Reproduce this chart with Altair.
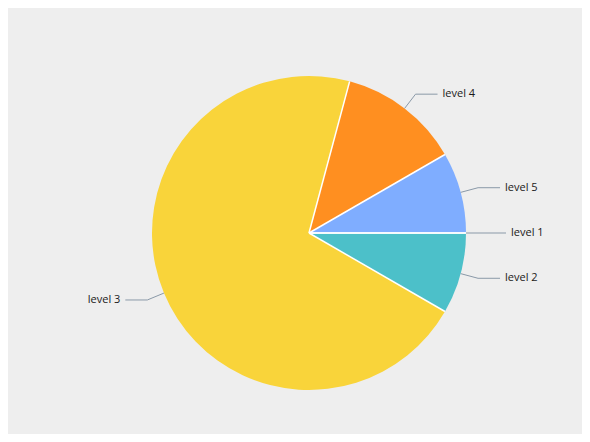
import math
import altair as alt
import pandas as pd

categories = ["level 1", "level 2", "level 3", "level 4", "level 5"]
values = [0, 2, 17, 3, 2]
colors = ["#5b8ff9", "#4cc0c9", "#f9d43a", "#ff8f20", "#7fadff"]

W, H = 574, 426
CX, CY = 301, 225
R = 157
L1, L2, GAP = 18, 22, 5

df = pd.DataFrame({"name": categories, "value": values, "order": list(range(len(categories)))})

base = alt.Chart(df)

pie = base.mark_arc(radius=R).encode(
    theta=alt.Theta("value:Q", stack=True,
                    scale=alt.Scale(range=[math.pi / 2, math.pi / 2 + 2 * math.pi])),
    order=alt.Order("order:Q"),
    color=alt.Color("name:N", scale=alt.Scale(domain=categories, range=colors), legend=None),
    x=alt.value(CX),
    y=alt.value(CY),
)

geo = base.transform_joinaggregate(total="sum(value)").transform_window(
    cum="sum(value)", sort=[alt.SortField("order")], frame=[None, 0]
).transform_calculate(
    a=f"(datum.cum - datum.value/2) / datum.total * 2 * PI",
    b=f"datum.cum / datum.total * 2 * PI",
).transform_calculate(
    c="cos(datum.a)", s="sin(datum.a)", sg="cos(datum.a) >= 0 ? 1 : -1",
    bx=f"{CX} + {R} * cos(datum.b)", by=f"{CY} + {R} * sin(datum.b)",
    cx=f"{CX}", cy=f"{CY}",
).transform_calculate(
    x0=f"{CX} + {R} * datum.c", y0=f"{CY} + {R} * datum.s",
    x1=f"{CX} + {R + L1} * datum.c", y1=f"{CY} + {R + L1} * datum.s",
).transform_calculate(
    x2=f"datum.x1 + datum.sg * {L2}",
    tx=f"datum.x1 + datum.sg * {L2 + GAP}",
)

sep = geo.mark_rule(color="white", strokeWidth=1.5).encode(
    x=alt.X("cx:Q", scale=None), y=alt.Y("cy:Q", scale=None),
    x2="bx:Q", y2="by:Q",
)

line_color = "#8a99a8"
seg1 = geo.mark_rule(color=line_color, strokeWidth=1).encode(
    x=alt.X("x0:Q", scale=None), y=alt.Y("y0:Q", scale=None),
    x2="x1:Q", y2="y1:Q",
)
seg2 = geo.mark_rule(color=line_color, strokeWidth=1).encode(
    x=alt.X("x1:Q", scale=None), y=alt.Y("y1:Q", scale=None),
    x2="x2:Q", y2="y1:Q",
)
txt_r = geo.transform_filter("datum.sg > 0").mark_text(
    align="left", baseline="middle", font="Open Sans", fontSize=11, color="#1a1a1a"
).encode(x=alt.X("tx:Q", scale=None), y=alt.Y("y1:Q", scale=None), text="name:N")
txt_l = geo.transform_filter("datum.sg < 0").mark_text(
    align="right", baseline="middle", font="Open Sans", fontSize=11, color="#1a1a1a"
).encode(x=alt.X("tx:Q", scale=None), y=alt.Y("y1:Q", scale=None), text="name:N")

chart = alt.layer(pie, sep, seg1, seg2, txt_r, txt_l).properties(
    width=W, height=H, background="#eeeeee", padding=0
).configure_view(stroke=None)

chart.save("out.html", embed_options={"renderer": "svg", "actions": False})
